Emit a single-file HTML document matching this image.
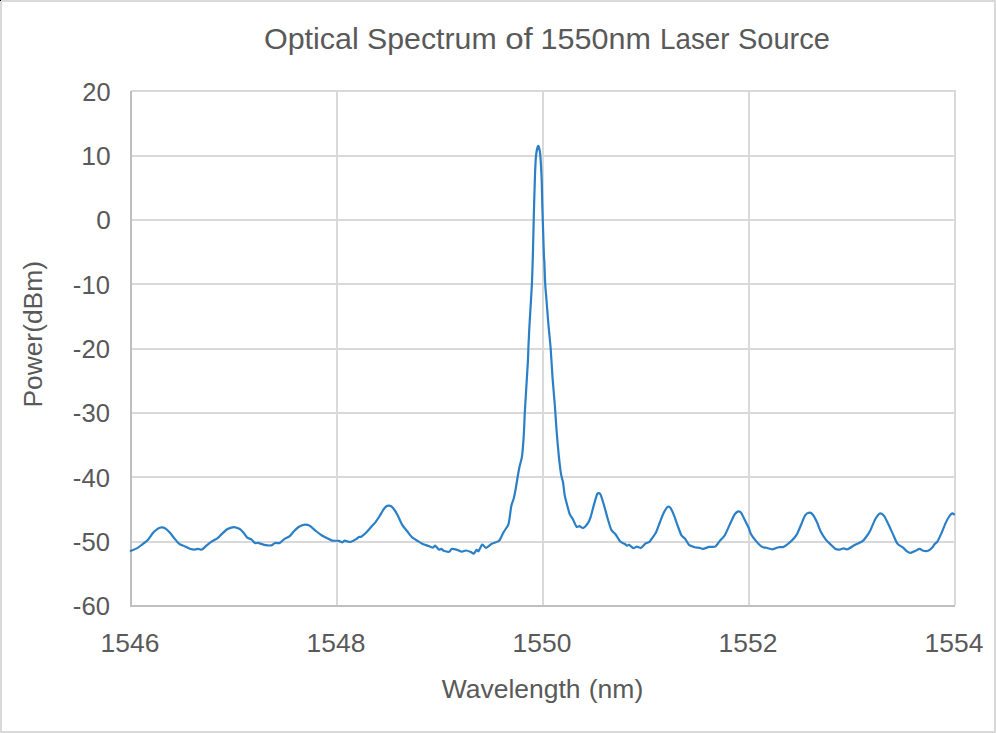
<!DOCTYPE html>
<html><head><meta charset="utf-8"><style>
html,body{margin:0;padding:0;background:#fff;}
body{width:996px;height:733px;overflow:hidden;position:relative;}
svg{position:absolute;left:0;top:0;font-family:"Liberation Sans",sans-serif;}
</style></head><body>
<svg width="996" height="733" viewBox="0 0 996 733">
<rect x="1" y="1" width="994" height="731" fill="#fff" stroke="#d9d9d9" stroke-width="2"/>
<rect x="0" y="0" width="1" height="1" fill="#000"/>
<line x1="131" y1="91" x2="955" y2="91" stroke="#d9d9d9" stroke-width="2"/>
<line x1="131" y1="156" x2="955" y2="156" stroke="#d9d9d9" stroke-width="2"/>
<line x1="131" y1="220" x2="955" y2="220" stroke="#d9d9d9" stroke-width="2"/>
<line x1="131" y1="284" x2="955" y2="284" stroke="#d9d9d9" stroke-width="2"/>
<line x1="131" y1="349" x2="955" y2="349" stroke="#d9d9d9" stroke-width="2"/>
<line x1="131" y1="413" x2="955" y2="413" stroke="#d9d9d9" stroke-width="2"/>
<line x1="131" y1="477" x2="955" y2="477" stroke="#d9d9d9" stroke-width="2"/>
<line x1="131" y1="542" x2="955" y2="542" stroke="#d9d9d9" stroke-width="2"/>
<line x1="337" y1="90" x2="337" y2="605" stroke="#d9d9d9" stroke-width="2"/>
<line x1="543" y1="90" x2="543" y2="605" stroke="#d9d9d9" stroke-width="2"/>
<line x1="749" y1="90" x2="749" y2="605" stroke="#d9d9d9" stroke-width="2"/>
<line x1="955" y1="90" x2="955" y2="605" stroke="#d9d9d9" stroke-width="2"/>
<line x1="131" y1="91" x2="131" y2="607" stroke="#bfbfbf" stroke-width="2"/>
<line x1="130" y1="606" x2="955" y2="606" stroke="#bfbfbf" stroke-width="2"/>
<text x="82.38" y="101" font-size="25" fill="#595959" textLength="28.24" lengthAdjust="spacingAndGlyphs">20</text>
<text x="81.29" y="165" font-size="25" fill="#595959" textLength="29.37" lengthAdjust="spacingAndGlyphs">10</text>
<text x="96.15" y="229" font-size="25" fill="#595959" textLength="14.60" lengthAdjust="spacingAndGlyphs">0</text>
<text x="72.87" y="294" font-size="25" fill="#595959" textLength="37.07" lengthAdjust="spacingAndGlyphs">-10</text>
<text x="72.87" y="358" font-size="25" fill="#595959" textLength="37.07" lengthAdjust="spacingAndGlyphs">-20</text>
<text x="72.87" y="422" font-size="25" fill="#595959" textLength="37.07" lengthAdjust="spacingAndGlyphs">-30</text>
<text x="72.87" y="487" font-size="25" fill="#595959" textLength="37.07" lengthAdjust="spacingAndGlyphs">-40</text>
<text x="72.87" y="551" font-size="25" fill="#595959" textLength="37.07" lengthAdjust="spacingAndGlyphs">-50</text>
<text x="72.87" y="615" font-size="25" fill="#595959" textLength="37.07" lengthAdjust="spacingAndGlyphs">-60</text>
<text x="100.64" y="652" font-size="25" fill="#595959" textLength="58.77" lengthAdjust="spacingAndGlyphs">1546</text>
<text x="306.64" y="652" font-size="25" fill="#595959" textLength="58.77" lengthAdjust="spacingAndGlyphs">1548</text>
<text x="512.64" y="652" font-size="25" fill="#595959" textLength="58.77" lengthAdjust="spacingAndGlyphs">1550</text>
<text x="718.64" y="652" font-size="25" fill="#595959" textLength="58.77" lengthAdjust="spacingAndGlyphs">1552</text>
<text x="924.64" y="652" font-size="25" fill="#595959" textLength="58.77" lengthAdjust="spacingAndGlyphs">1554</text>
<text x="263.96" y="49" font-size="29.3" fill="#595959" textLength="94.88" lengthAdjust="spacingAndGlyphs">Optical</text>
<text x="367.07" y="49" font-size="29.3" fill="#595959" textLength="129.55" lengthAdjust="spacingAndGlyphs">Spectrum</text>
<text x="505.17" y="49" font-size="29.3" fill="#595959" textLength="27.59" lengthAdjust="spacingAndGlyphs">of</text>
<text x="540.52" y="49" font-size="29.3" fill="#595959" textLength="110.34" lengthAdjust="spacingAndGlyphs">1550nm</text>
<text x="660.11" y="49" font-size="29.3" fill="#595959" textLength="69.37" lengthAdjust="spacingAndGlyphs">Laser</text>
<text x="738.01" y="49" font-size="29.3" fill="#595959" textLength="91.81" lengthAdjust="spacingAndGlyphs">Source</text>
<text x="441.80" y="698" font-size="25" fill="#595959" textLength="138.76" lengthAdjust="spacingAndGlyphs">Wavelength</text>
<text x="588.74" y="698" font-size="25" fill="#595959" textLength="54.54" lengthAdjust="spacingAndGlyphs">(nm)</text>
<text transform="translate(42,405.5) rotate(-90)" x="-2.11" y="0" font-size="25" fill="#595959" textLength="146.58" lengthAdjust="spacingAndGlyphs">Power(dBm)</text>
<path d="M130.8,550.8 C131.50,550.52 135.53,549.10 136.8,548.4 C138.07,547.70 140.36,545.85 141.7,544.8 C143.04,543.75 146.97,540.80 148.3,539.4 C149.63,538.00 151.98,534.06 153.1,532.8 C154.22,531.54 156.92,529.24 157.9,528.6 C158.88,527.96 160.65,527.33 161.5,527.3 C162.35,527.26 164.21,527.66 165.2,528.3 C166.19,528.94 168.95,531.64 170.0,532.8 C171.05,533.95 173.08,536.87 174.2,538.2 C175.32,539.53 178.34,543.24 179.6,544.2 C180.86,545.16 183.80,545.86 185.0,546.4 C186.20,546.94 188.77,548.43 189.9,548.8 C191.03,549.17 193.72,549.60 194.7,549.6 C195.68,549.60 197.46,548.80 198.3,548.8 C199.14,548.80 200.92,550.00 201.9,549.6 C202.88,549.20 205.58,546.33 206.7,545.4 C207.82,544.47 210.23,542.44 211.5,541.6 C212.77,540.76 216.47,539.02 217.6,538.2 C218.73,537.38 220.08,535.65 221.2,534.6 C222.32,533.55 225.73,530.08 227.2,529.2 C228.67,528.33 232.54,527.21 233.8,527.1 C235.06,527.00 237.28,528.05 238.0,528.3 C238.72,528.54 239.35,528.68 240.0,529.2 C240.65,529.73 242.76,531.82 243.6,532.8 C244.44,533.78 246.29,536.83 247.2,537.6 C248.11,538.37 250.48,538.77 251.4,539.4 C252.32,540.03 254.32,542.60 255.1,543.0 C255.88,543.40 257.05,542.59 258.1,542.8 C259.15,543.01 262.56,544.50 264.1,544.8 C265.64,545.10 270.04,545.61 271.3,545.4 C272.56,545.19 273.91,543.28 274.9,543.0 C275.89,542.72 278.67,543.49 279.8,543.0 C280.93,542.51 283.48,539.57 284.6,538.8 C285.72,538.03 288.28,537.31 289.4,536.4 C290.52,535.49 293.08,532.13 294.2,531.0 C295.32,529.87 297.73,527.45 299.0,526.7 C300.27,525.95 303.83,524.69 305.1,524.6 C306.37,524.51 308.64,525.15 309.9,525.9 C311.16,526.65 314.50,529.88 315.9,531.0 C317.30,532.12 320.64,534.68 321.9,535.5 C323.16,536.32 325.50,537.40 326.7,538.0 C327.90,538.60 330.79,540.27 332.2,540.6 C333.61,540.93 337.61,540.59 338.8,540.8 C339.99,541.01 341.70,542.42 342.4,542.4 C343.10,542.38 343.89,540.65 344.8,540.6 C345.71,540.55 348.93,542.14 350.2,542.0 C351.47,541.86 354.70,539.98 355.7,539.4 C356.70,538.82 358.16,537.31 358.8,537.0 C359.44,536.69 360.36,537.19 361.2,536.7 C362.04,536.21 364.87,533.90 366.0,532.8 C367.13,531.70 369.77,528.57 370.9,527.3 C372.03,526.03 374.72,523.16 375.7,521.9 C376.68,520.64 378.46,517.83 379.3,516.5 C380.14,515.17 382.13,511.65 382.9,510.5 C383.67,509.35 385.13,507.16 385.9,506.6 C386.67,506.04 388.72,505.59 389.5,505.7 C390.28,505.81 391.68,506.45 392.6,507.5 C393.52,508.55 396.28,512.67 397.4,514.7 C398.52,516.73 401.08,523.00 402.2,524.9 C403.32,526.80 405.88,529.59 407.0,531.0 C408.12,532.41 410.53,535.81 411.8,537.0 C413.07,538.19 416.63,540.38 417.9,541.2 C419.17,542.02 421.44,543.44 422.7,544.0 C423.96,544.56 427.51,545.58 428.7,546.0 C429.89,546.42 432.13,547.63 432.9,547.6 C433.67,547.57 434.60,545.47 435.3,545.7 C436.00,545.93 438.20,549.24 438.9,549.6 C439.60,549.96 440.73,548.66 441.3,548.8 C441.87,548.94 442.88,550.46 443.8,550.8 C444.72,551.14 448.29,551.91 449.2,551.7 C450.11,551.49 450.76,549.25 451.6,549.0 C452.44,548.75 455.21,549.28 456.4,549.6 C457.59,549.92 460.68,551.60 461.8,551.7 C462.92,551.81 464.94,550.47 466.0,550.5 C467.06,550.53 470.00,551.63 470.9,552.0 C471.80,552.37 473.03,553.96 473.7,553.7 C474.37,553.44 476.04,550.09 476.6,549.8 C477.16,549.51 477.83,551.82 478.5,551.2 C479.17,550.58 481.41,544.88 482.3,544.5 C483.19,544.12 484.99,547.98 486.1,547.9 C487.21,547.82 490.28,544.63 491.8,543.8 C493.32,542.97 497.76,542.09 499.1,540.8 C500.44,539.50 502.25,534.53 503.3,532.7 C504.35,530.87 507.39,526.65 508.1,525.1 C508.81,523.55 509.03,521.63 509.4,519.4 C509.77,517.17 510.79,508.46 511.3,506.0 C511.81,503.54 513.29,500.31 513.8,498.3 C514.31,496.29 515.26,491.25 515.7,488.8 C516.14,486.35 517.16,479.87 517.6,477.3 C518.04,474.73 518.99,469.25 519.5,466.8 C520.01,464.35 521.51,459.85 522.0,456.3 C522.49,452.75 523.37,441.51 523.7,436.4 C524.03,431.29 524.57,417.04 524.8,412.5 C525.03,407.96 525.34,403.50 525.7,397.5 C526.06,391.50 527.57,367.23 527.9,361.1 C528.23,354.98 528.28,349.85 528.5,345.0 C528.72,340.15 529.40,326.61 529.8,319.5 C530.20,312.39 531.53,292.21 531.9,284.1 C532.27,275.99 532.77,258.40 533.0,250.0 C533.23,241.60 533.67,220.85 533.9,212.1 C534.13,203.35 534.75,181.57 535.0,175.0 C535.25,168.43 535.63,159.18 536.0,155.8 C536.37,152.42 537.72,146.31 538.2,146.0 C538.68,145.69 539.69,149.13 540.1,153.1 C540.51,157.07 541.44,173.94 541.7,180.0 C541.96,186.06 542.04,196.25 542.3,205.0 C542.56,213.75 543.67,248.48 543.9,255.0 C544.13,261.52 544.15,257.50 544.3,260.9 C544.45,264.29 544.97,279.81 545.2,284.1 C545.43,288.39 545.93,293.01 546.3,297.7 C546.67,302.39 547.89,318.33 548.4,324.3 C548.91,330.27 550.22,342.74 550.7,348.9 C551.18,355.06 552.02,370.56 552.5,377.1 C552.98,383.65 554.32,398.71 554.8,405.0 C555.28,411.29 556.14,425.19 556.6,431.0 C557.06,436.81 558.19,449.80 558.7,454.8 C559.21,459.81 560.50,470.69 561.0,473.9 C561.50,477.11 562.56,479.75 563.0,482.3 C563.44,484.86 564.30,493.08 564.8,495.8 C565.30,498.52 566.73,503.45 567.3,505.6 C567.87,507.75 569.06,512.62 569.7,514.2 C570.34,515.78 572.01,517.64 572.8,519.1 C573.59,520.56 575.72,525.87 576.5,526.7 C577.28,527.53 578.72,526.06 579.5,526.2 C580.28,526.34 582.20,528.30 583.2,527.9 C584.20,527.50 587.24,524.05 588.1,522.8 C588.96,521.55 589.95,519.21 590.6,517.2 C591.25,515.19 592.92,508.32 593.7,505.6 C594.48,502.88 596.52,495.22 597.3,493.9 C598.08,492.58 599.61,492.94 600.4,494.3 C601.19,495.67 603.24,502.71 604.1,505.6 C604.96,508.49 606.95,516.24 607.8,519.1 C608.65,521.96 610.55,528.38 611.4,530.1 C612.25,531.82 614.06,532.47 615.1,533.8 C616.14,535.13 619.17,540.31 620.3,541.5 C621.43,542.69 623.99,543.51 624.8,544.0 C625.61,544.49 626.71,545.61 627.2,545.7 C627.69,545.79 628.29,544.52 629.0,544.8 C629.71,545.08 632.38,547.89 633.3,548.1 C634.22,548.31 635.99,546.63 636.9,546.6 C637.81,546.57 640.12,548.15 641.1,547.8 C642.08,547.45 644.32,544.30 645.3,543.6 C646.28,542.90 648.66,542.50 649.5,541.8 C650.34,541.10 651.73,538.72 652.5,537.6 C653.27,536.48 655.25,533.96 656.1,532.2 C656.95,530.44 658.95,524.68 659.8,522.5 C660.65,520.32 662.49,515.32 663.4,513.5 C664.31,511.68 666.76,507.53 667.6,506.9 C668.44,506.27 669.83,507.05 670.6,508.1 C671.37,509.15 673.36,513.80 674.2,515.9 C675.04,518.00 676.96,523.85 677.8,526.1 C678.64,528.35 680.55,533.72 681.4,535.2 C682.25,536.68 684.18,537.63 685.1,538.8 C686.02,539.97 688.18,544.22 689.3,545.2 C690.42,546.18 693.51,546.90 694.7,547.2 C695.89,547.50 698.52,547.61 699.5,547.8 C700.48,547.99 701.97,548.90 703.1,548.8 C704.23,548.69 707.79,547.16 709.2,546.9 C710.61,546.64 713.94,547.34 715.2,546.6 C716.46,545.87 718.88,541.93 720.0,540.6 C721.12,539.27 723.68,537.03 724.8,535.2 C725.92,533.37 728.47,527.29 729.6,524.9 C730.73,522.51 733.50,516.28 734.5,514.7 C735.50,513.12 737.42,511.61 738.2,511.4 C738.98,511.19 740.43,511.88 741.2,512.9 C741.97,513.91 743.95,518.42 744.8,520.1 C745.65,521.78 747.79,525.68 748.5,527.3 C749.21,528.92 750.06,532.45 750.9,534.0 C751.74,535.55 754.44,539.13 755.7,540.6 C756.96,542.07 760.44,545.76 761.7,546.6 C762.96,547.44 765.23,547.49 766.5,547.8 C767.77,548.11 771.19,549.37 772.6,549.3 C774.01,549.23 777.34,547.48 778.6,547.2 C779.86,546.92 782.00,547.53 783.4,546.9 C784.80,546.27 789.05,543.23 790.6,541.8 C792.15,540.37 795.43,536.71 796.7,534.6 C797.97,532.49 800.52,525.95 801.5,523.7 C802.48,521.45 804.19,516.58 805.1,515.3 C806.01,514.02 808.39,512.77 809.3,512.7 C810.21,512.63 811.99,513.56 812.9,514.7 C813.81,515.84 816.19,520.53 817.1,522.5 C818.01,524.47 819.71,529.63 820.7,531.6 C821.69,533.57 824.47,537.93 825.6,539.4 C826.73,540.87 829.28,543.10 830.4,544.2 C831.52,545.30 834.15,548.17 835.2,548.8 C836.25,549.43 838.42,549.65 839.4,549.6 C840.38,549.55 842.68,548.43 843.6,548.4 C844.52,548.37 845.95,549.72 847.3,549.3 C848.65,548.88 853.43,545.74 855.2,544.8 C856.97,543.86 861.23,542.11 862.5,541.2 C863.77,540.29 865.19,538.26 866.1,537.0 C867.01,535.74 869.25,532.44 870.3,530.4 C871.35,528.36 873.98,521.47 875.1,519.5 C876.22,517.53 878.85,513.92 879.9,513.5 C880.95,513.08 883.18,514.78 884.1,515.9 C885.02,517.02 886.81,521.06 887.8,523.1 C888.79,525.14 891.48,531.01 892.6,533.4 C893.72,535.79 896.14,541.92 897.4,543.6 C898.66,545.28 902.28,546.89 903.4,547.8 C904.52,548.71 906.15,550.80 907.0,551.4 C907.85,552.00 909.71,552.97 910.7,552.9 C911.69,552.83 914.45,551.28 915.5,550.8 C916.55,550.32 918.79,548.80 919.7,548.8 C920.61,548.80 922.32,550.57 923.3,550.8 C924.28,551.03 927.05,551.17 928.1,550.8 C929.15,550.43 931.53,548.39 932.3,547.6 C933.07,546.81 934.13,544.68 934.7,544.0 C935.27,543.32 936.49,542.90 937.2,541.8 C937.91,540.70 939.82,536.78 940.8,534.6 C941.78,532.42 944.62,525.21 945.6,523.1 C946.58,520.99 948.42,517.64 949.2,516.5 C949.98,515.36 951.74,513.56 952.3,513.3 C952.86,513.04 953.80,514.18 954.0,514.3" fill="none" stroke="#2a7fc7" stroke-width="2.2" stroke-linejoin="round" stroke-linecap="round"/>
</svg>
</body></html>
